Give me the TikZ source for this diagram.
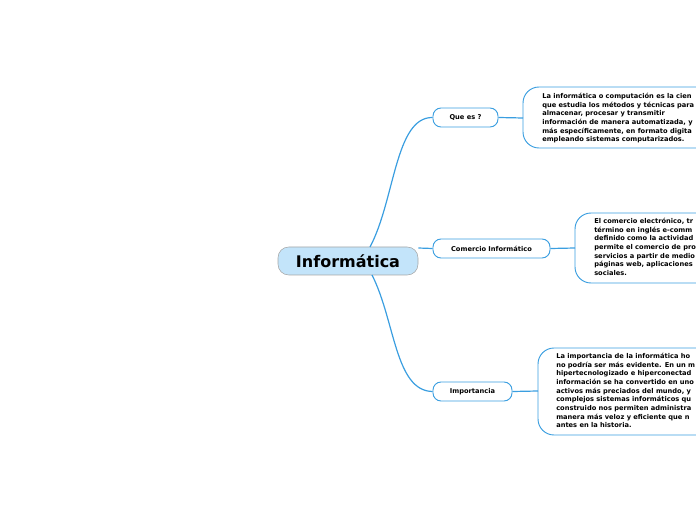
\documentclass[tikz,border=0pt]{standalone}
\usepackage{fontspec}
\setmainfont{DejaVu Sans}
\begin{document}
\begin{tikzpicture}[x=0.75pt,y=-0.75pt,
  lk/.style={draw=linkblue,line width=0.9pt},
  sub/.style={draw=linkblue,rounded corners=6pt,fill=white,line width=0.7pt,font=\bfseries\fontsize{5}{6}\selectfont,inner sep=0pt},
  det/.style={draw=linkblue,rounded corners=12pt,fill=white,line width=0.7pt},
  txt/.style={anchor=north west,align=left,inner sep=0pt,font=\bfseries\fontsize{5}{6.5}\selectfont}]
\definecolor{linkblue}{HTML}{3A9EE0}
\definecolor{mainfill}{HTML}{C3E4FA}
\useasboundingbox (0,0) rectangle (696,520);
\begin{scope}
\clip (0,0) rectangle (696,520);
\node[draw=gray!70,fill=mainfill,rounded corners=8pt,minimum width=140pt*0.75,minimum height=28pt*0.75,font=\bfseries\fontsize{12}{14}\selectfont] (m) at (348,261) {Informática};
\node[sub,minimum width=65*0.75pt,minimum height=19*0.75pt] (q) at (465.5,117.5) {Que es ?};
\node[sub,minimum width=117*0.75pt,minimum height=19*0.75pt] (c) at (491.5,248.5) {Comercio Informático};
\node[sub,minimum width=79*0.75pt,minimum height=19*0.75pt] (i) at (472.5,391.5) {Importancia};
\draw[det] (523,87) rectangle (760,148);
\coordinate (d1) at (523,118);
\draw[det] (575,213) rectangle (760,283);
\coordinate (d2) at (575,248);
\draw[det] (538,348) rectangle (760,435);
\coordinate (d3) at (538,391);
\node[txt] (t1) at (542,93) {La informática o computación es la cien\\que estudia los métodos y técnicas para\\almacenar, procesar y transmitir\\información de manera automatizada, y\\más específicamente, en formato digita\\empleando sistemas computarizados.};
\node[txt] (t2) at (594,218) {El comercio electrónico, tr\\término en inglés e-comm\\definido como la actividad\\permite el comercio de pro\\servicios a partir de medio\\páginas web, aplicaciones\\sociales.};
\node[txt] (t3) at (556,353) {La importancia de la informática ho\\no podría ser más evidente. En un m\\hipertecnologizado e hiperconectad\\información se ha convertido en uno\\activos más preciados del mundo, y\\complejos sistemas informáticos qu\\construido nos permiten administra\\manera más veloz y eficiente que n\\antes en la historia.};
\end{scope}
\begin{scope}[on background layer/.style={}]
\end{scope}
\draw[lk] (370,247) .. controls (395,200) and (395,117) .. (q.west);
\draw[lk] (m.east |- 0,248) -- (c.west);
\draw[lk] (372,275) .. controls (395,320) and (395,391) .. (i.west);
\draw[lk] (q.east) -- (d1);
\draw[lk] (c.east) -- (d2);
\draw[lk] (i.east) -- (d3);
\end{tikzpicture}
\end{document}
